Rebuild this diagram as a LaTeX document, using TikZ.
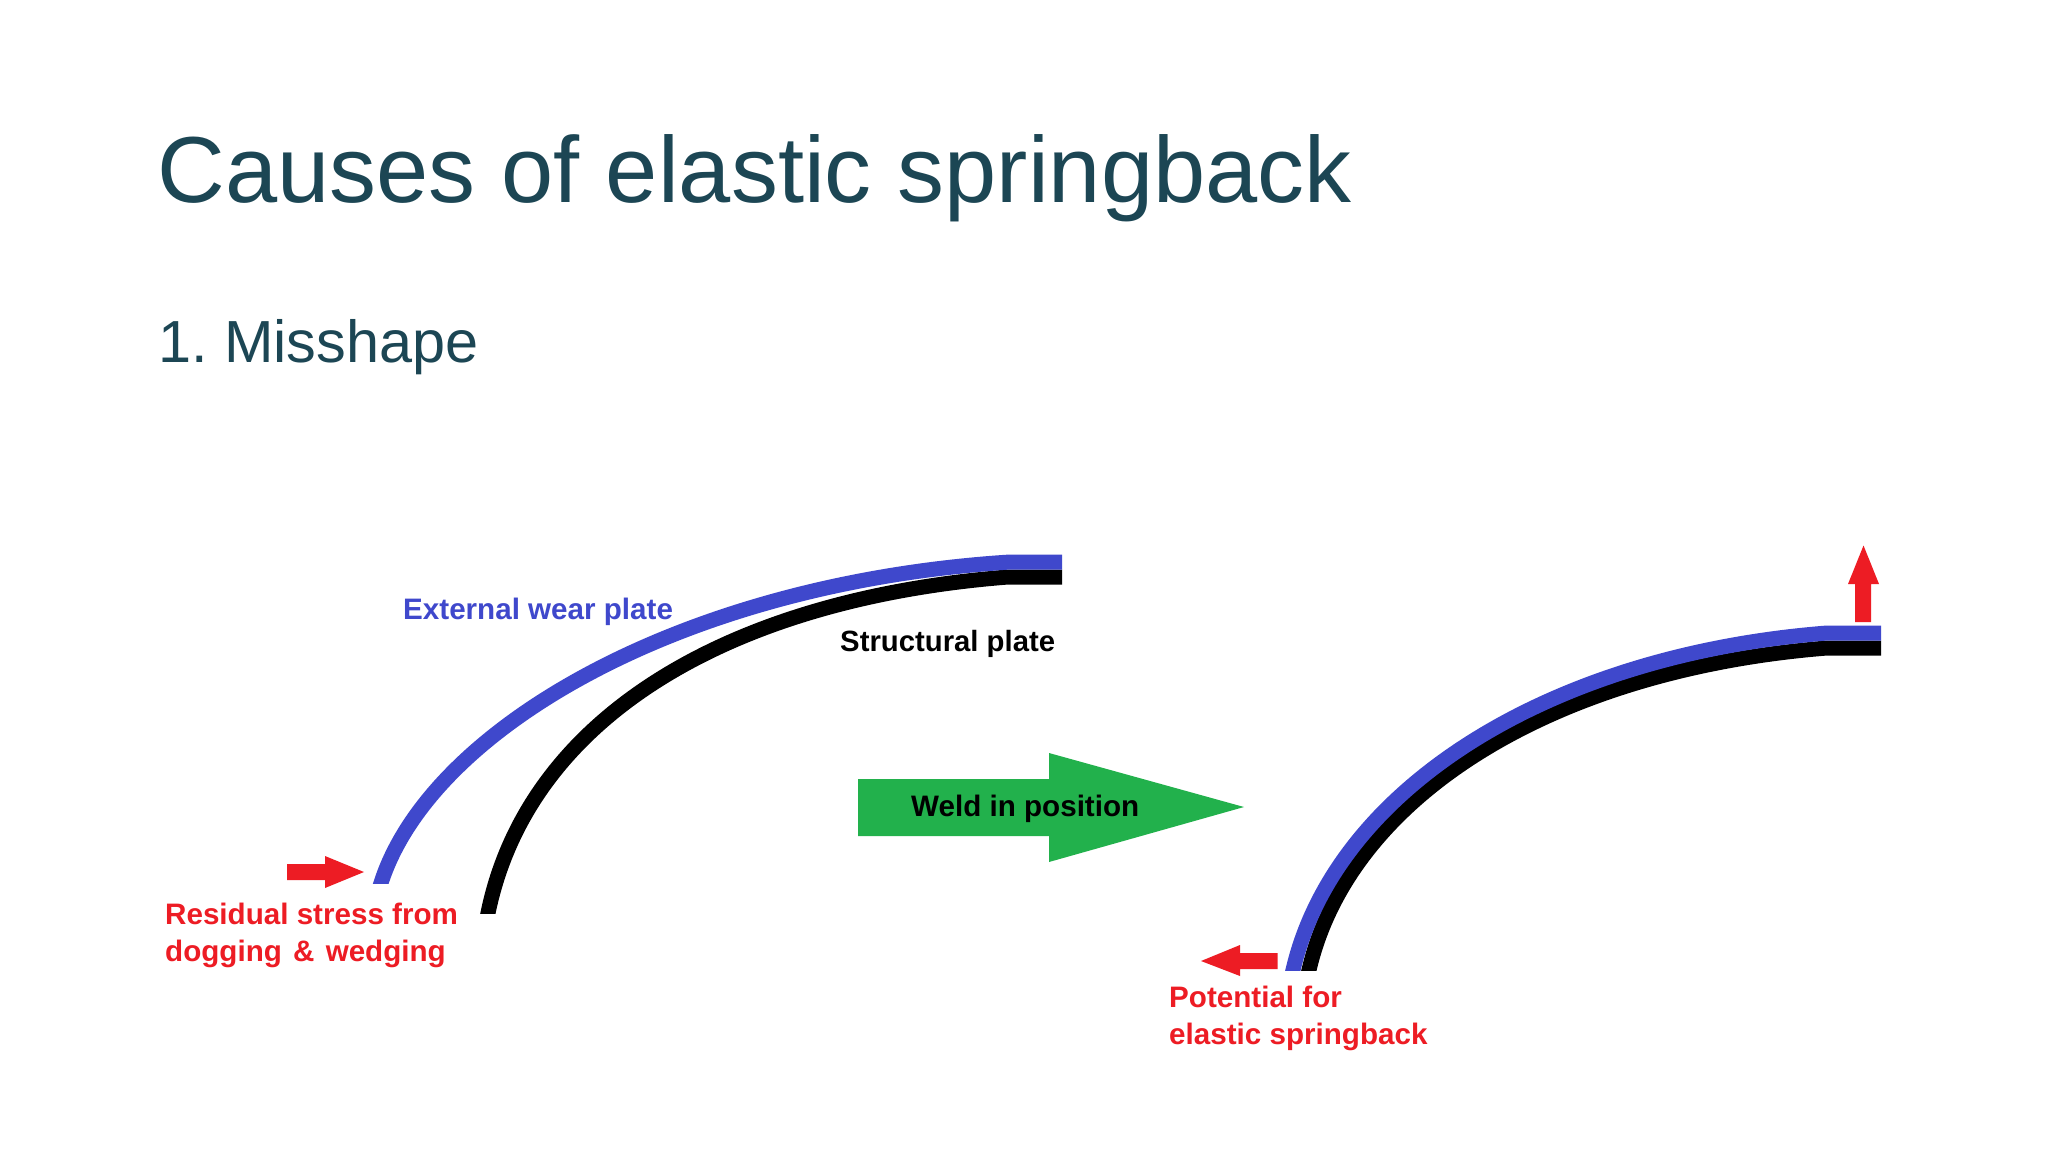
\documentclass[tikz,border=0pt]{standalone}
\usepackage{fontspec}
\setmainfont{Liberation Sans}
\definecolor{titleteal}{HTML}{1C4654}
\definecolor{plateblue}{HTML}{3F48CC}
\definecolor{alertred}{HTML}{ED1C24}
\definecolor{weldgreen}{HTML}{22B14C}
\tikzset{
  titletext/.style={anchor=base west,inner sep=0pt,text=titleteal,font=\fontsize{93.8}{94}\selectfont},
  subtext/.style={anchor=base west,inner sep=0pt,text=titleteal,font=\fontsize{59.4}{60}\selectfont},
  label/.style={anchor=base west,inner sep=0pt,font=\fontsize{29.6}{30}\selectfont\bfseries},
  blueplate/.style={draw=plateblue,line width=15pt,line cap=butt,line join=round},
  blackplate/.style={draw=black,line width=15pt,line cap=butt,line join=round},
  redarrow/.style={fill=alertred,draw=none},
}
\begin{document}
\begin{tikzpicture}[x=1pt,y=-1pt]
\useasboundingbox (0,0) rectangle (2048,1152);
\fill[white] (0,0) rectangle (2048,1152);
\node[titletext] (title) at (157.5,202) {Causes of elastic springback};
\node[subtext] (sub) at (158,362) {1.\ Misshape};
% left pair
\begin{scope}
\clip (0,0) rectangle (1062,913);
\draw[blackplate] (484,935) -- (488,913) .. controls (528,718) and (728,599) .. (1008,577) -- (1062,577);
\end{scope}
\begin{scope}
\clip (0,0) rectangle (1062,883);
\draw[blueplate] (374,905) -- (381,883) .. controls (430,730) and (680,583) .. (1010,562) -- (1062,562);
\end{scope}
% right pair
\begin{scope}
\clip (0,0) rectangle (1881,970);
\draw[blackplate] (1304,992) -- (1309,970) .. controls (1349,797) and (1551,670) .. (1827,648) -- (1881,648);
\draw[blueplate] (1288,992) -- (1293,970) .. controls (1335,790) and (1547,655) .. (1827,633) -- (1881,633);
\end{scope}
% red arrows
\fill[redarrow] (287,864) -- (325,864) -- (325,856) -- (364,872) -- (325,888) -- (325,880) -- (287,880) -- cycle;
\fill[redarrow] (1855,622) -- (1855,584) -- (1848,584) -- (1863.5,545.5) -- (1879,584) -- (1871,584) -- (1871,622) -- cycle;
\fill[redarrow] (1277.5,953) -- (1240,953) -- (1240,945) -- (1201,961) -- (1240,976) -- (1240,969) -- (1277.5,969) -- cycle;
% green arrow
\fill[weldgreen] (858,779) -- (1049,779) -- (1049,753) -- (1244,807) -- (1049,862) -- (1049,836) -- (858,836) -- cycle;
% labels
\node[label,text=plateblue] (wear) at (403,619) {External wear plate};
\node[label,text=black,font=\fontsize{29.3}{30}\selectfont\bfseries] (struct) at (840,651) {Structural plate};
\node[label,text=black] (weld) at (911,816) {Weld in position};
\node[label,text=alertred] (res1) at (165,924) {Residual stress from};
\node[label,text=alertred] (res2) at (165,961) {dogging\hspace{3pt} \& \hspace{3pt}wedging};
\node[label,text=alertred] (pot1) at (1169,1007) {Potential for};
\node[label,text=alertred] (pot2) at (1169,1044) {elastic springback};
\end{tikzpicture}
\end{document}
